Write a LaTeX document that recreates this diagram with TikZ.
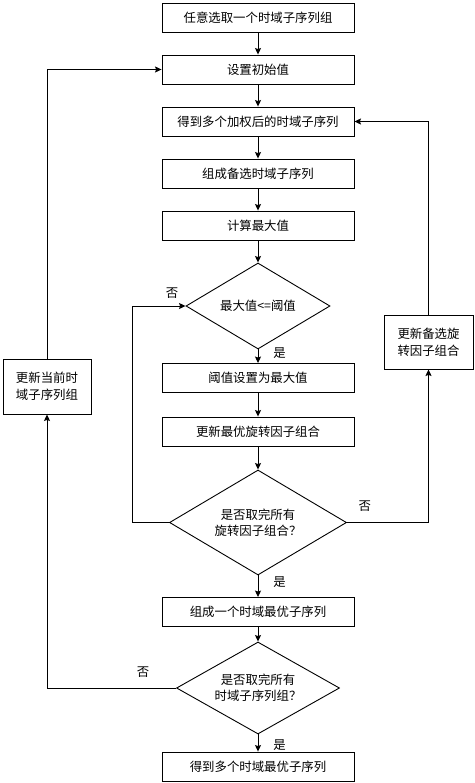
\documentclass[tikz,border=0pt]{standalone}
\usepackage{fontspec}
\setmainfont{Noto Sans CJK SC}
\usetikzlibrary{shapes.geometric,positioning,arrows.meta}

\begin{document}
\begin{tikzpicture}[-,>={Stealth[length=6.5pt,width=6pt,inset=1pt]},x=1pt,y=1pt,node distance=52pt,line width=0.9pt,
    main node/.style={rectangle,draw,minimum width=192pt,minimum height=29pt,font=\fontsize{12.4}{16}\selectfont},
    test node/.style={diamond,draw,aspect=2,inner sep=0pt,align=center,font=\fontsize{12.4}{16}\selectfont},
    side node/.style={rectangle,draw,align=center,minimum width=88pt,minimum height=55pt,font=\fontsize{12.4}{17}\selectfont},
    word/.style={font=\fontsize{12.4}{15}\selectfont}]
            \useasboundingbox (0,0) rectangle (474,-783);

            \node[main node] (1) at (258,-17.5) {任意选取一个时域子序列组};
            \node[main node] (2) [below of = 1] {设置初始值};
            \node[main node] (3) [below of = 2] {得到多个加权后的时域子序列};
            \node[main node] (4) [below of = 3] {组成备选时域子序列};
            \node[main node] (5) [below of = 4] {计算最大值};
            \node[test node,minimum width=144pt,minimum height=86pt] (6) [below of = 5,node distance=80.5pt] {最大值<=阈值};
            \node[main node] (7) [below of = 6,node distance=72pt] {阈值设置为最大值};
            \node[main node] (8) [below of = 7,node distance=53.5pt] {更新最优旋转因子组合};
            \node[test node,minimum width=177pt,minimum height=105pt] (9) [below of = 8,node distance=91pt] {是否取完所有\\旋转因子组合？};
            \node[main node] (10) [below of = 9,node distance=89.5pt] {组成一个时域最优子序列};
            \node[test node,minimum width=163pt,minimum height=92pt] (11) [below of = 10,node distance=76pt] {是否取完所有\\时域子序列组？};
            \node[main node] (12) [below of = 11,node distance=78.5pt] {得到多个时域最优子序列};

            \node[side node] (13) at (47,-386.5) {更新当前时\\域子序列组};
            \node[side node,minimum width=89pt,minimum height=54pt] (14) at (428.5,-342) {更新备选旋\\转因子组合};

            \path[->,every node/.style={word}]
                (1) edge (2)
                (2) edge (3)
                (3) edge (4)
                (4) edge (5)
                (5) edge (6)
                (6) edge node[pos=0.28,right,xshift=11.5pt] {是} (7)
                (7) edge (8)
                (8) edge (9)
                (9) edge node[pos=0.31,right,xshift=11.5pt] {是} (10)
                (10) edge (11)
                (11) edge node[pos=0.61,right,xshift=11.5pt] {是} (12)
            ;

            \draw[->] (9.west) -- ++(-36.5,0) |- (6.west);
            \draw[->] (9.east) -| (14.south);
            \draw[->] (14.north) |- (3.east);
            \draw[->] (11.west) -| (13.south);
            \draw[->] (13.north) |- (2.west);

            \node[word,above left=3.5pt and 3.5pt of 6.west] {否};
            \node[word,above right=7pt and 8pt of 9.east] {否};
            \node[word,above left=6.5pt and 23pt of 11.west] {否};
        \end{tikzpicture}
\end{document}
